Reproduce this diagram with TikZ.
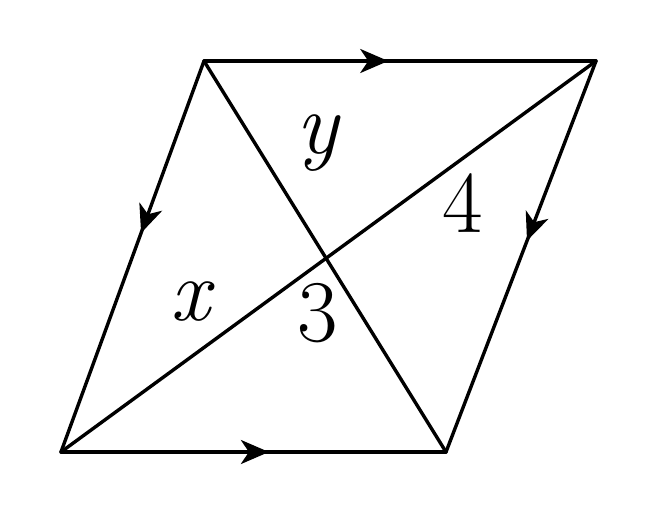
\documentclass[tikz,border=0pt]{standalone}
\usepackage{fontspec}
\usetikzlibrary{arrows.meta,decorations.markings}
\tikzset{
  edge/.style={line width=3.4pt, line cap=round, line join=round},
  arrowedge/.style={edge, postaction={decorate, decoration={markings,
      mark=at position #1 with {\arrow{Stealth[length=28pt,width=24pt,inset=8pt]}}}}},
  lbl/.style={inner sep=0pt, anchor=base, font=\fontsize{88}{88}\selectfont}
}
\begin{document}
\begin{tikzpicture}[x=1pt,y=-1pt]
\useasboundingbox (0,0) rectangle (657,514);
\coordinate (A) at (204,61);
\coordinate (B) at (596,61);
\coordinate (C) at (446,452);
\coordinate (D) at (61,452);
\draw[arrowedge=0.47] (A) -- (B);
\draw[arrowedge=0.44] (A) -- (D);
\draw[arrowedge=0.46] (B) -- (C);
\draw[arrowedge=0.54] (D) -- (C);
\draw[edge] (A) -- (C);
\draw[edge] (D) -- (B);
\node[lbl] (ly) at (317,153) {\itshape y};
\node[lbl] (l4) at (463,232) {4};
\node[lbl] (lx) at (190,320) {\itshape x};
\node[lbl] (l3) at (318,341) {3};
\end{tikzpicture}
\end{document}
